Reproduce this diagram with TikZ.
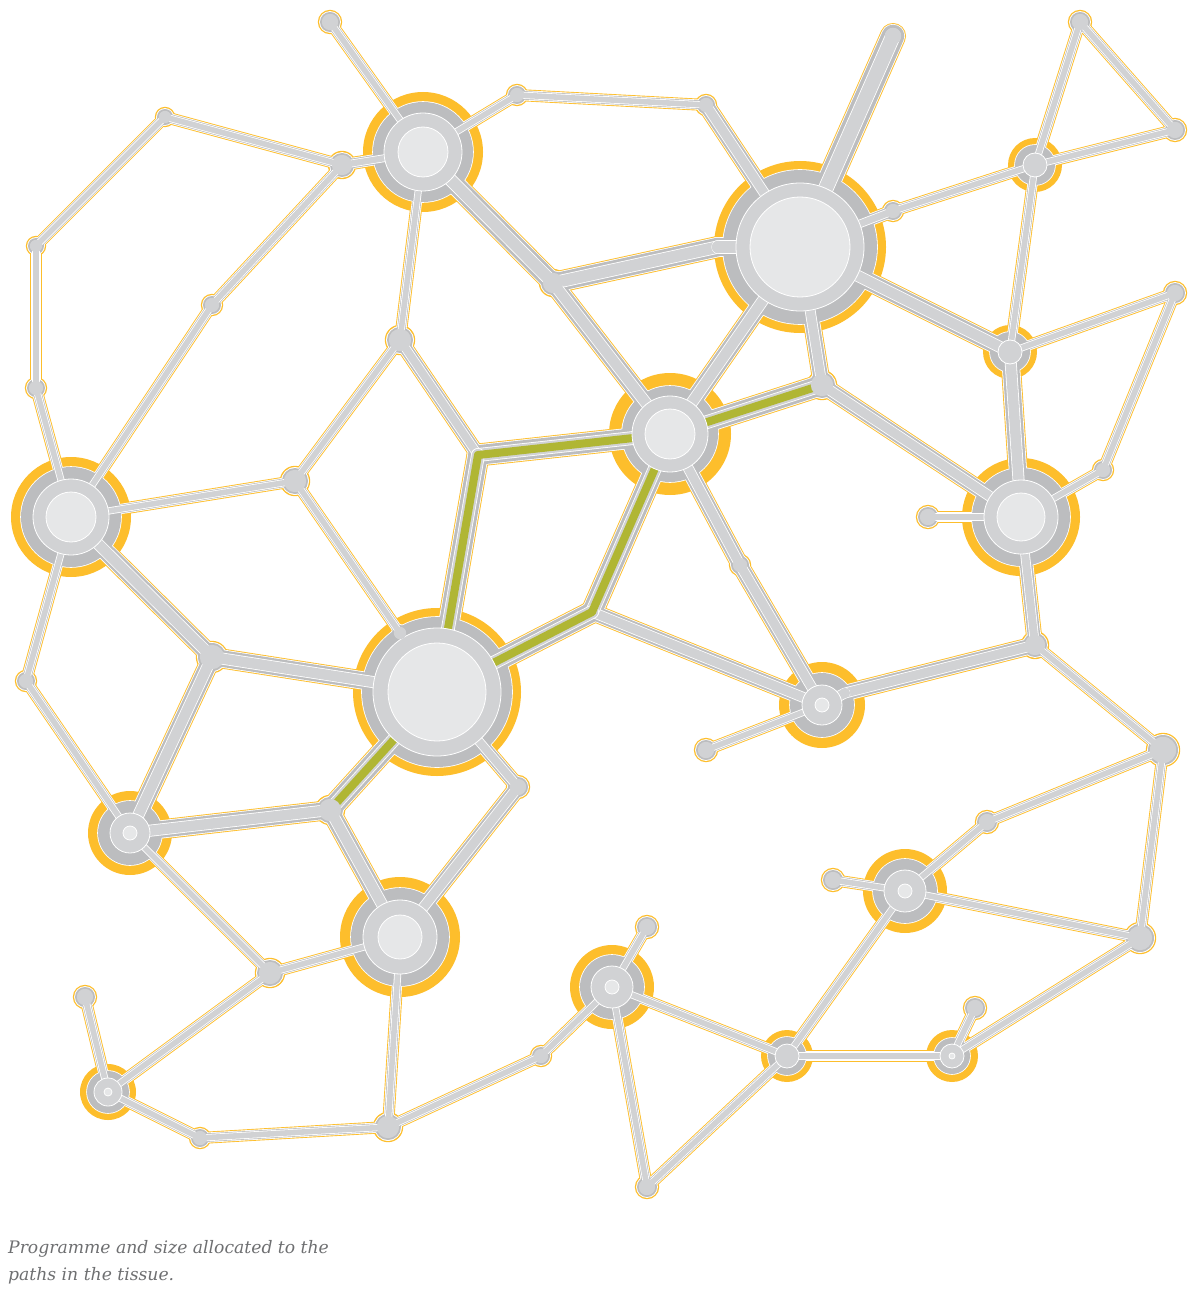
\documentclass[tikz,border=0pt]{standalone}
\usepackage{fontspec}
\newfontfamily\capfont{DejaVu Serif}

\definecolor{tubeyellow}{RGB}{253,190,44}
\definecolor{tubedark}{RGB}{188,189,191}
\definecolor{tubelight}{RGB}{209,210,212}
\definecolor{tubecore}{RGB}{230,231,232}
\definecolor{tubegreen}{RGB}{176,182,52}
\definecolor{captiongrey}{RGB}{110,111,113}

% tubes: from/to/width
\newcommand{\tubelist}{k1/A/12, A/k3/12, k3/k4/12,
  k2/A/13, k14/k2/12, k15/k14/12, k16/k15/12,
  D/k16/12, D/k17/12, k17/k2/12, D/k19/12,
  k19/k18/12, k19/k22/12, A/k18/12, D/k24/12,
  k24/H/12, H/k39/12, k39/I/12, k39/L/12,
  L/k38/12, L/k37/12, k37/k36/12, k36/I/12,
  k36/k35/12, k35/K/12, K/k33/12, K/k34/12,
  k34/N/12, K/N/12, N/J/12, N/M/12,
  M/k32/12, M/k31/12, J/k31/12, J/k30/12,
  J/k29/12, k29/k28/12, k28/k31/12, k27/k28/12,
  G/k40/12, B/k7/14, k7/P/12, P/k9/12,
  k9/k10/12, k10/P/12, P/O/12, O/k11/12,
  k11/k12/12, k12/E/12, E/k13/12,
  k4/B/18, B/k8/26, A/k5/22, k5/k6/22,
  k6/B/22, k5/C/20, C/B/20, B/k20/18,
  k20/E/18, B/O/20, O/E/20, E/k27/16,
  k27/k41/18, k41/G/18, k18/b1/16, b2/G/18,
  C/k21/18, k21/G/18, D/k23/20, k23/F/20,
  k23/H/20, H/k25/20, k25/I/20, F/k26/16,
  k26/I/18,
  C/b1/23, b1/F/23, C/b2/23, b2/F/23,
  C/k20/23, k25/F/23}

% green stripe along the chosen path
\newcommand{\greenlist}{C/b1, b1/F, C/b2, b2/F, C/k20, k25/F}

% cells: name/yellow/dark/light/core radius
\newcommand{\celllist}{A/60/50/39/25, B/86/77/64/50, C/61/48/38/25, D/60/50/38/25,
  E/59/49/37/24, F/84/75/64/49, G/43/32/20/7, H/42/32/20/7, I/60/49/37/22,
  J/42/32/21/7, K/42/32/21/7, L/28/21/14/4, M/26/18/12/3, N/26/19/12/0,
  O/27/20/12/0, P/27/20/12/0}

% knots: name/radius
\newcommand{\knotlist}{k1/10, k2/12, k3/9, k4/9, k5/12, k6/8, k7/9, k8/10, k9/10,
  k10/10, k11/10, k12/9, k13/10, k14/8, k15/8, k16/9, k17/9, k18/13, k19/13,
  k20/13, k21/9, k22/8, k23/14, k24/9, k25/13, k26/10, k27/12, k28/15, k29/10,
  k30/10, k31/14, k32/10, k33/10, k34/10, k35/9, k36/13, k37/9, k38/10, k39/13,
  k40/10, k41/7}

\begin{document}
\begin{tikzpicture}[x=1pt,y=-1pt,line cap=round,line join=round]
  \tikzstyle{caption}=[anchor=base west,inner sep=0pt,text=captiongrey,
    font=\capfont\itshape\fontsize{17.2}{27}\selectfont]
  \useasboundingbox (0,0) rectangle (1200,1289);

  % cells
  \coordinate (A) at (423,152);
  \coordinate (B) at (800,247);
  \coordinate (C) at (670,434);
  \coordinate (D) at (71,517);
  \coordinate (E) at (1021,517);
  \coordinate (F) at (437,692);
  \coordinate (G) at (822,705);
  \coordinate (H) at (130,833);
  \coordinate (I) at (400,937);
  \coordinate (J) at (905,891);
  \coordinate (K) at (612,987);
  \coordinate (L) at (108,1092);
  \coordinate (M) at (952,1056);
  \coordinate (N) at (787,1056);
  \coordinate (O) at (1010,352);
  \coordinate (P) at (1035,165);
  % knots
  \coordinate (k1) at (330,22);
  \coordinate (k2) at (342,165);
  \coordinate (k3) at (517,95);
  \coordinate (k4) at (706,105);
  \coordinate (k5) at (553,283);
  \coordinate (k6) at (718,247);
  \coordinate (k7) at (893,211);
  \coordinate (k8) at (893,36);
  \coordinate (k9) at (1080,22);
  \coordinate (k10) at (1175,130);
  \coordinate (k11) at (1175,293);
  \coordinate (k12) at (1103,470);
  \coordinate (k13) at (928,517);
  \coordinate (k14) at (165,117);
  \coordinate (k15) at (36,246);
  \coordinate (k16) at (36,388);
  \coordinate (k17) at (212,305);
  \coordinate (k18) at (400,340);
  \coordinate (k19) at (295,481);
  \coordinate (k20) at (822,385);
  \coordinate (k21) at (740,565);
  \coordinate (k22) at (400,633);
  \coordinate (k23) at (212,657);
  \coordinate (k24) at (26,681);
  \coordinate (k25) at (330,810);
  \coordinate (k26) at (518,787);
  \coordinate (k27) at (1035,645);
  \coordinate (k28) at (1163,750);
  \coordinate (k29) at (987,822);
  \coordinate (k30) at (833,880);
  \coordinate (k31) at (1140,938);
  \coordinate (k32) at (975,1008);
  \coordinate (k33) at (647,927);
  \coordinate (k34) at (647,1187);
  \coordinate (k35) at (541,1056);
  \coordinate (k36) at (388,1127);
  \coordinate (k37) at (200,1138);
  \coordinate (k38) at (85,997);
  \coordinate (k39) at (270,973);
  \coordinate (k40) at (706,750);
  \coordinate (k41) at (845,693);
  % bends of the green path
  \coordinate (b1) at (478,455);
  \coordinate (b2) at (592,612);

  % yellow rim
  \foreach \a/\b/\w in \tubelist
    \draw[tubeyellow,line width=\w pt] (\a) -- (\b);
  \foreach \n/\ry/\rd/\rl/\rc in \celllist
    \fill[tubeyellow] (\n) circle (\ry pt);
  \foreach \n/\r in \knotlist {
    \pgfmathsetmacro\rr{\r+2.2}
    \fill[tubeyellow] (\n) circle (\rr pt);
  }

  % white gap
  \foreach \a/\b/\w in \tubelist {
    \pgfmathsetmacro\ww{\w-1.8}
    \draw[white,line width=\ww pt] (\a) -- (\b);
  }
  \foreach \n/\ry/\rd/\rl/\rc in \celllist {
    \pgfmathsetmacro\rr{\rd+0.8}
    \fill[white] (\n) circle (\rr pt);
  }
  \foreach \n/\r in \knotlist {
    \pgfmathsetmacro\rr{\r+0.9}
    \fill[white] (\n) circle (\rr pt);
  }

  % dark wall
  \foreach \a/\b/\w in \tubelist {
    \pgfmathsetmacro\ww{\w-3.4}
    \draw[tubedark,line width=\ww pt] (\a) -- (\b);
  }
  \foreach \n/\ry/\rd/\rl/\rc in \celllist
    \fill[tubedark] (\n) circle (\rd pt);
  \foreach \n/\r in \knotlist
    \fill[tubedark] (\n) circle (\r pt);

  % core of the tubes
  \foreach \a/\b/\w in \tubelist {
    \pgfmathsetmacro\ww{0.6*\w}
    \pgfmathsetmacro\wc{0.6*\w-1.6}
    \draw[white,line width=\ww pt] (\a) -- (\b);
    \draw[tubelight,line width=\wc pt] (\a) -- (\b);
  }
  \foreach \a/\b in \greenlist
    \draw[tubegreen,line width=8pt] (\a) -- (\b);

  % inside of cells and knots
  \foreach \n/\ry/\rd/\rl/\rc in \celllist {
    \filldraw[fill=tubelight,draw=white,line width=0.8pt] (\n) circle (\rl pt);
    \ifnum\rc>0
      \filldraw[fill=tubecore,draw=white,line width=0.8pt] (\n) circle (\rc pt);
    \fi
  }
  \foreach \n/\r in \knotlist {
    \pgfmathsetmacro\rr{\r-1.8}
    \fill[tubelight] (\n) circle (\rr pt);
  }

  \node[caption] (cap1) at (8,1253) {Programme and size allocated to the};
  \node[caption] (cap2) at (8,1280) {paths in the tissue.};
\end{tikzpicture}
\end{document}
